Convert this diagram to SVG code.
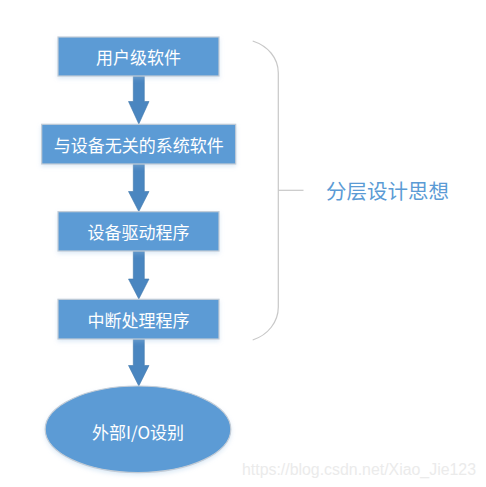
<svg xmlns="http://www.w3.org/2000/svg" width="486" height="487" viewBox="0 0 486 487">
  <defs>
    <filter id="sh" x="-10%" y="-20%" width="120%" height="150%">
      <feDropShadow dx="0" dy="2" stdDeviation="2" flood-color="#9dc3e6" flood-opacity="0.35"/>
    </filter>
  </defs>
  <style>
    .box { fill: #5b9bd5; stroke: #c3ccd6; stroke-width: 1.2; filter: url(#sh); }
    .lbl { fill: #ffffff; font-family: "Noto Sans CJK SC", "Liberation Sans", sans-serif; font-size: 17px; text-anchor: middle; dominant-baseline: central; }
    .arrow { fill: #4a86c0; stroke: #4178ad; stroke-width: 0.6; }
    .brace { fill: none; stroke: #c8c8c8; stroke-width: 1.2; }
  </style>
  <rect width="486" height="487" fill="#ffffff"/>

  <g id="connectors">
    <polygon class="arrow" points="133.3,76 144.3,76 144.3,101.5 149,101.5 138.8,124 128.5,101.5 133.3,101.5"/>
    <polygon class="arrow" points="133.3,164 144.3,164 144.3,191.5 149,191.5 138.8,211.5 128.5,191.5 133.3,191.5"/>
    <polygon class="arrow" points="133.3,251 144.3,251 144.3,279 149,279 138.8,299 128.5,279 133.3,279"/>
    <polygon class="arrow" points="133.3,339 144.3,339 144.3,365.5 149,365.5 138.8,386 128.5,365.5 133.3,365.5"/>
  </g>

  <g id="node-user">
    <rect class="box" x="58" y="37" width="161" height="39"/>
    <text class="lbl" x="138.5" y="56.5">用户级软件</text>
  </g>
  <g id="node-indep">
    <rect class="box" x="41.7" y="124.3" width="194" height="39.7"/>
    <text class="lbl" x="138.7" y="144">与设备无关的系统软件</text>
  </g>
  <g id="node-driver">
    <rect class="box" x="58" y="211.7" width="161" height="39.3"/>
    <text class="lbl" x="138.5" y="231.5">设备驱动程序</text>
  </g>
  <g id="node-irq">
    <rect class="box" x="58" y="299.3" width="161" height="39.7"/>
    <text class="lbl" x="138.5" y="319">中断处理程序</text>
  </g>
  <g id="node-device">
    <ellipse class="box" cx="138" cy="429.3" rx="92.8" ry="43.3"/>
    <text class="lbl" x="138" y="431">外部I/O设别</text>
  </g>

  <g id="brace">
    <path class="brace" d="M252.7,41 C268,46 278.3,58 278.3,73 L278.3,307 C278.3,322 268,335 252.7,340"/>
    <path class="brace" d="M278.3,190.3 H303.5"/>
    <text x="387.5" y="190.3" fill="#5b9bd5" font-family="Noto Sans CJK SC, Liberation Sans, sans-serif" font-size="20.5" text-anchor="middle" dominant-baseline="central">分层设计思想</text>
  </g>

  <text x="242" y="475" fill="#ebebeb" font-family="Liberation Sans, Arial, sans-serif" font-size="16" textLength="234" lengthAdjust="spacingAndGlyphs">https://blog.csdn.net/Xiao_Jie123</text>
</svg>
